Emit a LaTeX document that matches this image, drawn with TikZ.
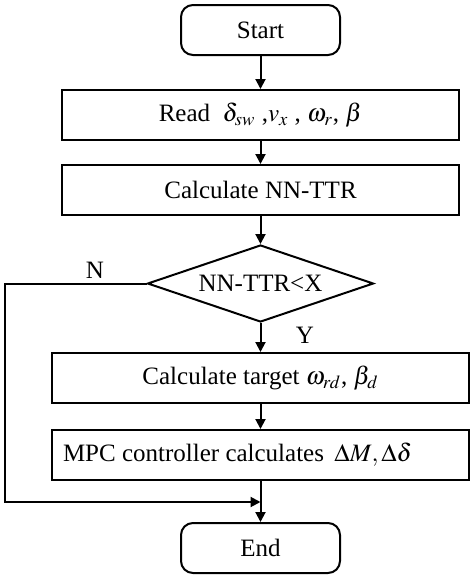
\documentclass[tikz,border=0pt]{standalone}
\usepackage{mathptmx}
\usepackage{fontspec}
\setmainfont{Liberation Serif}
\usepackage{tikz}
\usetikzlibrary{shapes.geometric, arrows.meta}

\tikzset{
	term/.style={draw, line width=1pt, rounded corners=6pt, minimum width=79.5pt, minimum height=25pt, inner sep=0pt},
	procbox/.style={draw, line width=1pt, minimum width=198.5pt, minimum height=25pt, inner sep=0pt},
	widebox/.style={draw, line width=1pt, minimum width=208.5pt, minimum height=25pt, inner sep=0pt},
	decide/.style={draw, line width=1pt, diamond, aspect=2.9, minimum width=113pt, minimum height=38.5pt, inner sep=0pt},
	flow/.style={line width=1pt, -{Triangle[length=5pt, width=5pt]}}
}

\begin{document}
\begin{tikzpicture}[x=0.5pt, y=-0.5pt, font=\fontsize{12.5}{15}\selectfont]
		\useasboundingbox (0,0) rectangle (474,579);
		
		\node[term] (start) at (260.5,30){Start};
		\node[procbox] (read) at (260.5,115){Read \ $\delta_{sw}$ ,$v_x$ , $\omega_r$, $\beta$};
		\node[procbox] (calc) at (260.5,190){Calculate NN-TTR};
		\node[decide] (check) at (260.5,283.5){NN-TTR<X};
		\node[widebox] (target) at (260.5,378){Calculate target $\omega_{rd}$, $\beta_d$};
		\node[widebox, inner xsep=5.5pt, text width=197.5pt, align=flush left] (mpc) at (260.5,455){MPC controller calculates \,$\Delta M, \Delta\delta$};
		\node[term] (end) at (260.5,548){End};
		
		\coordinate (left) at (5,283.5);
		\coordinate (merge) at (260.5,502);
		
		\node(nlabel) at (95,270){N};
		\node(ylabel) at (305,335){Y};
		
		\draw[flow] (start) -- (read);
		\draw[flow] (read) -- (calc);
		\draw[flow] (calc) -- (check);
		\draw[flow] (check) -- (target);
		\draw[flow] (target) -- (mpc);
		\draw[flow] (mpc) -- (end);
		\draw[flow] (check.west) -- (left) |- (merge);
	\end{tikzpicture}
\end{document}
